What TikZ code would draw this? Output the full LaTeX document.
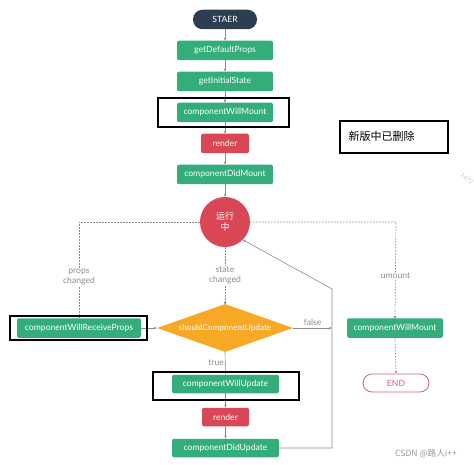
\documentclass[tikz,border=0pt]{standalone}
\usepackage{fontspec}
\setmainfont{Lato}
\newfontfamily\cjk{Noto Sans CJK SC}
\usetikzlibrary{arrows.meta,shapes.geometric}
\definecolor{cgreen}{HTML}{33AE7B}
\definecolor{cred}{HTML}{D94655}
\definecolor{cnavy}{HTML}{2C3E50}
\definecolor{corange}{HTML}{F7A825}
\definecolor{cgray}{HTML}{8C8C8C}
\definecolor{cpink}{HTML}{C9697F}
\tikzset{
  box/.style={rounded corners=2pt, text=white, inner sep=0pt, font=\fontsize{8.6}{10}\selectfont, minimum height=19.5pt},
  gbox/.style={box, fill=cgreen, minimum width=96pt},
  rbox/.style={box, fill=cred, minimum width=48pt},
  conn/.style={cgray, line width=0.6pt, -{Stealth[length=3pt,width=2.5pt]}},
  dconn/.style={cgray, line width=0.7pt, dash pattern=on 1.5pt off 1.5pt},
  lbl/.style={text=cgray, font=\fontsize{8.6}{10}\selectfont, align=center, fill=white, inner sep=1pt},
  frame/.style={draw=black, line width=1.4pt}
}
\begin{document}
\begin{tikzpicture}[x=1pt,y=-1pt]
\useasboundingbox (0,0) rectangle (474,465);
\fill[white] (0,0) rectangle (474,465);
% top chain
\node[box, fill=cnavy, rounded corners=9.5pt, minimum width=64pt] (start) at (225,19.5) {STAER};
\node[gbox] (gdp) at (225,50.5) {getDefaultProps};
\node[gbox] (gis) at (225,81.5) {getInitialState};
\node[gbox] (cwm) at (225,112.5) {componentWillMount};
\node[rbox] (r1) at (225,143.5) {render};
\node[gbox] (cdm) at (225,174.5) {componentDidMount};
\node[circle, fill=cred, minimum size=50pt, inner sep=0pt, text=white, align=center, font=\cjk\fontsize{9}{11}\selectfont] (run) at (225,222) {运行\\中};
\draw[conn] (start) -- (gdp);
\draw[conn] (gdp) -- (gis);
\draw[conn] (gis) -- (cwm);
\draw[conn] (cwm) -- (r1);
\draw[conn] (r1) -- (cdm);
\draw[conn] (cdm) -- (run);
% middle row
\node[gbox, minimum width=124pt] (cwrp) at (79,328) {componentWillReceiveProps};
\node[diamond, fill=corange, aspect=2.8, inner sep=0pt, minimum width=136pt, minimum height=48pt] (scu) at (225,328) {};
\node[text=white, font=\fontsize{8.2}{10}\selectfont] at (225,328) {shouldComponentUpdate};
\node[gbox] (cwm2) at (395,328) {componentWillMount};
\node[draw=cpink, line width=0.8pt, rounded corners=9pt, minimum width=66pt, minimum height=18pt, inner sep=0pt, text=cpink, font=\fontsize{8.6}{10}\selectfont] (end) at (396,383) {END};
% bottom chain
\node[gbox, minimum width=107pt, minimum height=18.5pt] (cwu) at (225.5,384) {componentWillUpdate};
\node[rbox, minimum width=47pt, minimum height=18.5pt] (r2) at (225.5,417) {render};
\node[gbox, minimum width=107pt, minimum height=18.5pt] (cdu) at (225.5,448) {componentDidUpdate};
% dashed branches
\coordinate (pl) at (79,222);
\coordinate (pr) at (396,222);
\draw[dconn] (run.west) -- (pl) -- (cwrp.north) node[lbl, pos=0.57] {props\\changed};
\draw[dconn] (run.east) -- (pr) -- (cwm2.north) node[lbl, pos=0.56] {umount};
\draw[dconn] (run.south) -- (scu.north) node[lbl, midway] {state\\changed};
\draw[cgray, -{Stealth[length=3pt,width=2.5pt]}] ([yshift=-0.5pt]cwm2.north) -- ++(0,0.1);
\draw[cgray, -{Stealth[length=3pt,width=2.5pt]}] ([yshift=-0.5pt]scu.north) -- ++(0,0.1);
\draw[cpink, line width=0.7pt, dash pattern=on 1.5pt off 1.5pt, -{Stealth[length=3pt,width=2.5pt]}] (cwm2.south) -- (end.north);
% solid connectors
\draw[conn] (cwrp.east) -- (scu.west);
\coordinate (rx) at (332,289);
\coordinate (rb) at (332,448);
\coordinate (fx) at (332,328);
\draw[conn] (scu.east) -- (fx) node[lbl, midway, above=1pt, fill=none] {false};
\draw[conn] (scu.south) -- (cwu.north) node[lbl, pos=0.45, left=0pt, fill=none] {true};
\draw[conn] (cwu) -- (r2);
\draw[conn] (r2) -- (cdu);
\draw[conn] (cdu.east) -- (rb) -- (rx) -- (run.south east);
% black frames
\draw[frame] (158,98) rectangle (289,127);
\draw[frame] (10,316) rectangle (147,340);
\draw[frame] (153,372) rectangle (299,400);
\node[frame, draw, minimum width=108pt, minimum height=32pt, inner sep=0pt] (note) at (394,137) {};
\node[font=\cjk\fontsize{11}{13}\selectfont, anchor=west] at (345,136) {新版中已删除};
% watermarks
\node[text=gray!50, font=\fontsize{6}{7}\selectfont, rotate=-40, anchor=west] at (459,172) {1472};
\node[text=gray!80, font=\cjk\fontsize{8.6}{10}\selectfont] at (426,454) {CSDN @路人i++};
\end{tikzpicture}
\end{document}
